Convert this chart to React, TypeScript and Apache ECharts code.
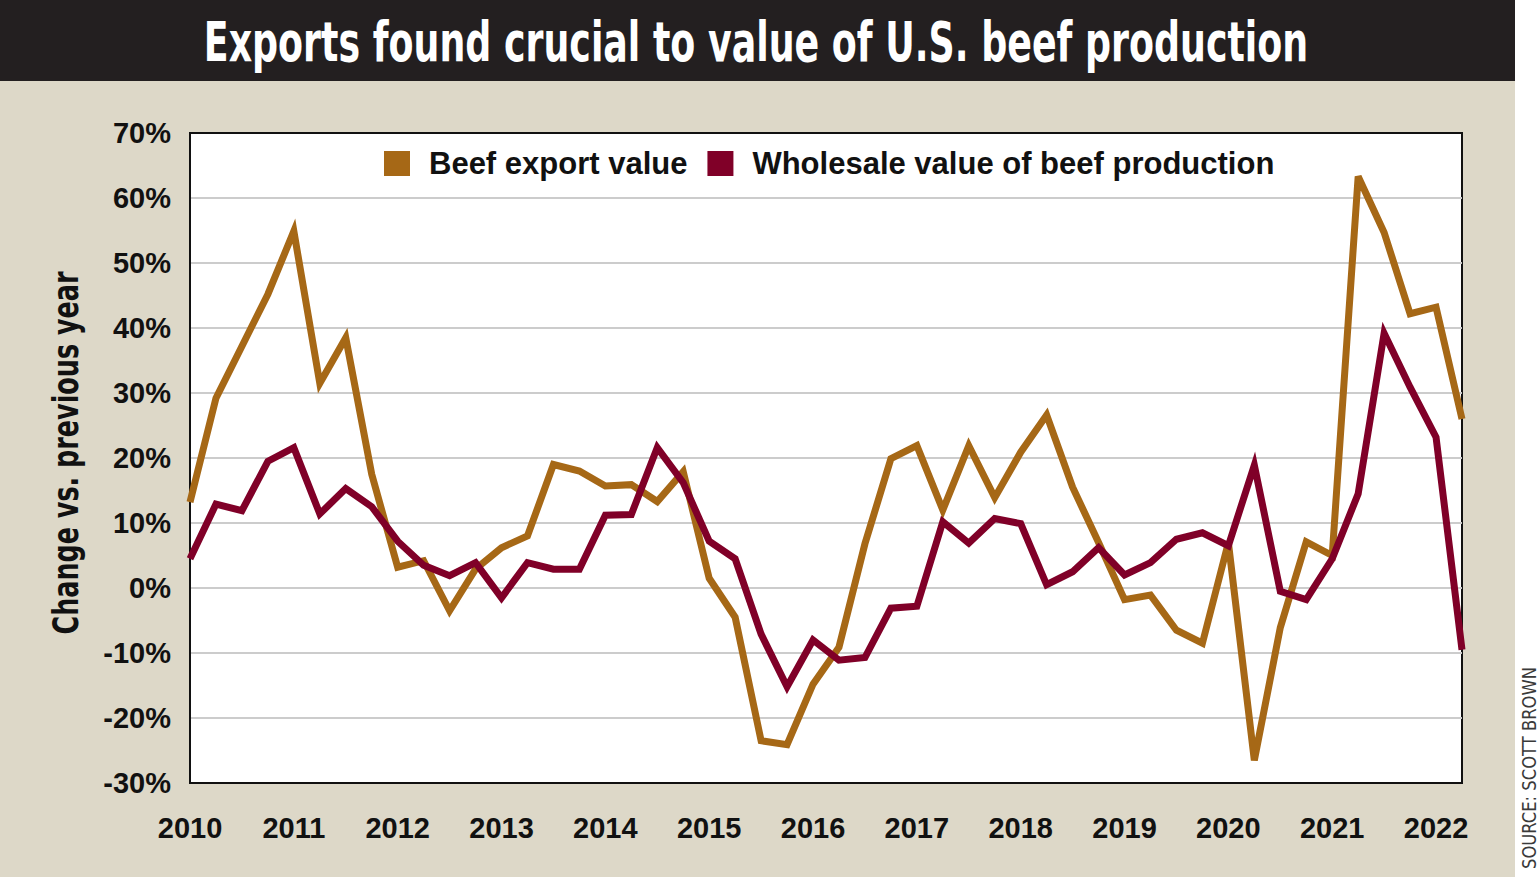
import React, { useEffect, useRef } from 'react';
import * as echarts from 'echarts';

// Year ticks on the x axis; data points are quarterly from 2010 Q1 to 2022 Q2.
const years = [2010, 2011, 2012, 2013, 2014, 2015, 2016, 2017, 2018, 2019, 2020, 2021, 2022];
const quarters = ['Q1', 'Q2', 'Q3', 'Q4'];
const quarterLabels = years.flatMap((y) => quarters.map((q) => `${y} ${q}`)).slice(0, 50);

// Year-over-year change, percent
const beefExportValue = [
  13.2, 29.2, 37.2, 45.2,
  54.9, 31.5, 38.5, 17.5,
  3.2, 4.2, -3.5, 2.9,
  6.2, 8.0, 19.0, 18.0,
  15.7, 15.9, 13.3, 17.9,
  1.5, -4.5, -23.5, -24.1,
  -14.8, -9.1, 6.8, 19.9,
  21.9, 12.0, 21.9, 13.9,
  20.9, 26.6, 15.5, 7.0,
  -1.8, -1.1, -6.5, -8.5,
  7.0, -26.5, -6.1, 7.1,
  5.0, 63.3, 54.7, 42.2,
  43.2, 26.0,
];

const wholesaleValue = [
  4.5, 12.9, 11.9, 19.5,
  21.6, 11.4, 15.3, 12.5,
  7.2, 3.5, 1.9, 3.9,
  -1.5, 3.9, 2.9, 2.9,
  11.2, 11.3, 21.6, 16.2,
  7.2, 4.5, -7.1, -15.2,
  -8.0, -11.1, -10.7, -3.1,
  -2.8, 10.2, 6.9, 10.7,
  9.9, 0.5, 2.5, 6.2,
  2.0, 3.9, 7.5, 8.5,
  6.5, 18.9, -0.5, -1.8,
  4.5, 14.5, 39.2, 30.9,
  23.2, -9.5,
];

const TITLE = 'Exports found crucial to value of U.S. beef production';
const Y_NAME = 'Change vs. previous year';
const SOURCE = 'SOURCE: SCOTT BROWN';
const SERIES_NAMES = ['Beef export value', 'Wholesale value of beef production'];

const ORANGE = '#a66816';
const CRIMSON = '#800028';
const BEIGE = '#ddd8c8';
const INK = '#111111';

const CONDENSED = "'Liberation Sans Narrow', 'DejaVu Sans Condensed', 'Liberation Sans', sans-serif";
const REGULAR = "'Liberation Sans', Arial, sans-serif";

function textWidth(text: string, fontSize: number, fontWeight: string, fontFamily: string) {
  const t = new echarts.graphic.Text({ style: { text, fontSize, fontWeight, fontFamily } as any });
  return t.getBoundingRect().width || 1;
}

export default function App() {
  const ref = useRef<HTMLDivElement>(null);

  useEffect(() => {
    if (!ref.current) return;
    const chart = echarts.init(ref.current, undefined, { renderer: 'svg' });

    const titleSize = 55;
    const titleScale = 1105 / textWidth(TITLE, titleSize, 'bold', CONDENSED);
    const nameSize = 35;
    const nameScale = 363 / textWidth(Y_NAME, nameSize, 'bold', CONDENSED);
    const sourceSize = 19;
    const sourceScale = 202 / textWidth(SOURCE, sourceSize, 'normal', CONDENSED);

    chart.setOption({
      animation: false,
      backgroundColor: BEIGE,
      graphic: [
        { type: 'rect', shape: { x: 0, y: 0, width: 1515, height: 81 }, style: { fill: '#231f20' } },
        { type: 'rect', shape: { x: 1515, y: 0, width: 25, height: 877 }, style: { fill: '#ffffff' } },
        {
          type: 'text', x: 756, y: 42, scaleX: titleScale,
          style: {
            text: TITLE, fill: '#ffffff', fontSize: titleSize, fontWeight: 'bold',
            fontFamily: CONDENSED, align: 'center', verticalAlign: 'middle',
          },
        },
        {
          type: 'text', x: 66, y: 453, rotation: Math.PI / 2, scaleX: nameScale,
          style: {
            text: Y_NAME, fill: INK, fontSize: nameSize, fontWeight: 'bold',
            fontFamily: CONDENSED, align: 'center', verticalAlign: 'middle',
          },
        },
        {
          type: 'text', x: 1529, y: 768, rotation: Math.PI / 2, scaleX: sourceScale, z: 10,
          style: {
            text: SOURCE, fill: '#3a3a3a', fontSize: sourceSize,
            fontFamily: CONDENSED, align: 'center', verticalAlign: 'middle',
          },
        },
      ],
      legend: {
        left: 379,
        top: 143,
        icon: 'rect',
        itemWidth: 26,
        itemHeight: 25,
        itemGap: 20,
        itemStyle: { borderWidth: 0 },
        textStyle: {
          fontSize: 31, fontWeight: 'bold', color: INK, fontFamily: REGULAR,
          padding: [0, 0, 0, 14],
        },
        data: SERIES_NAMES,
      },
      grid: {
        left: 190, right: 78, top: 133, bottom: 94,
        show: true, backgroundColor: '#ffffff', borderColor: INK, borderWidth: 2,
      },
      xAxis: {
        type: 'category',
        data: quarterLabels,
        boundaryGap: false,
        axisLine: { show: true, onZero: false, lineStyle: { color: INK, width: 2 } },
        axisTick: { show: false },
        splitLine: { show: false },
        axisLabel: {
          interval: (i: number) => i % 4 === 0,
          formatter: (v: string) => v.slice(0, 4),
          margin: 30,
          fontSize: 29, fontWeight: 'bold', color: INK, fontFamily: REGULAR,
        },
      },
      yAxis: {
        type: 'value',
        min: -30, max: 70, interval: 10,
        axisLine: { show: true, lineStyle: { color: INK, width: 2 } },
        axisTick: { show: false },
        splitLine: { show: true, showMinLine: false, showMaxLine: false, lineStyle: { color: '#cccccc', width: 2 } },
        axisLabel: {
          formatter: '{value}%',
          margin: 19,
          fontSize: 29, fontWeight: 'bold', color: INK, fontFamily: REGULAR,
        },
      },
      series: [
        {
          name: SERIES_NAMES[0], type: 'line', data: beefExportValue, color: ORANGE,
          symbol: 'none', lineStyle: { color: ORANGE, width: 7, join: 'miter', miterLimit: 10 },
        },
        {
          name: SERIES_NAMES[1], type: 'line', data: wholesaleValue, color: CRIMSON,
          symbol: 'none', lineStyle: { color: CRIMSON, width: 7, join: 'miter', miterLimit: 10 },
        },
      ],
    });

    return () => chart.dispose();
  }, []);

  return (
    <div
      ref={ref}
      style={{ position: 'fixed', left: 0, top: 0, width: 1540, height: 877 }}
    />
  );
}
